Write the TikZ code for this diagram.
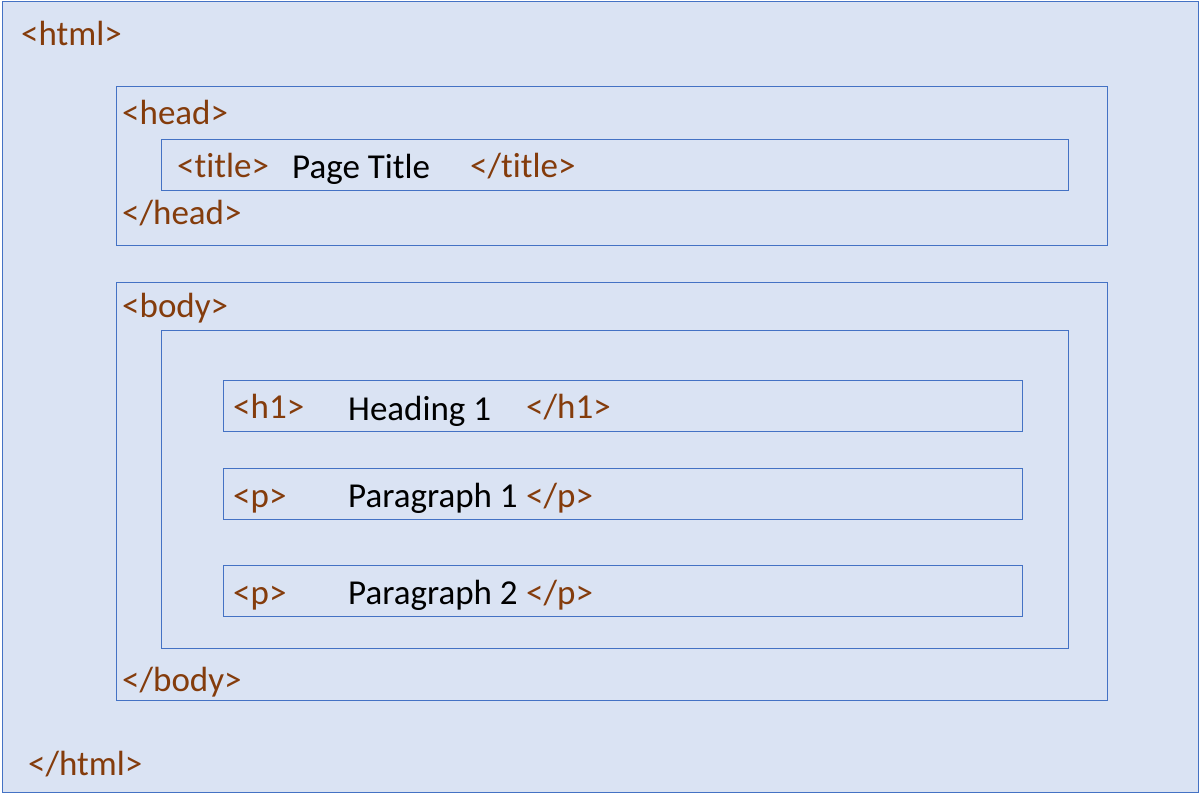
\documentclass[tikz,border=0pt]{standalone}
\usepackage{fontspec}
\setmainfont{Carlito}[Ligatures={NoCommon}]
\definecolor{boxfill}{HTML}{DAE3F3}
\definecolor{boxline}{HTML}{4472C4}
\definecolor{tagcol}{HTML}{843C0C}
\begin{document}
\begin{tikzpicture}[x=1pt,y=-1pt,
  box/.style={draw=boxline, line width=1pt, fill=boxfill, inner sep=0pt, outer sep=0pt, anchor=north west},
  tag/.style={text=tagcol, anchor=base west, inner sep=0pt, font=\fontsize{35}{42}\selectfont},
  txt/.style={text=black, anchor=base west, inner sep=0pt, font=\fontsize{35}{42}\selectfont}]
\useasboundingbox (0,0) rectangle (1200,796);
\fill[white] (0,0) rectangle (1200,796);
\node[box, minimum width=1196pt, minimum height=791pt] (html) at (2,1) {};
\node[box, minimum width=991pt, minimum height=159pt] (head) at (116,86) {};
\node[box, minimum width=907pt, minimum height=51pt] (title) at (161,139) {};
\node[box, minimum width=991pt, minimum height=418pt] (body) at (116,282) {};
\node[box, minimum width=907pt, minimum height=318pt] (inner) at (161,330) {};
\node[box, minimum width=799pt, minimum height=51pt] (h1) at (223,380) {};
\node[box, minimum width=799pt, minimum height=51pt] (p1) at (223,468) {};
\node[box, minimum width=799pt, minimum height=51pt] (p2) at (223,565) {};
\node[tag] (htmlopen) at (21,45) {<html>};
\node[tag] (headopen) at (122,124) {<head>};
\node[tag] (titleopen) at (177,177) {<title>};
\node[txt] (titletext) at (292,178) {Page Title};
\node[tag] (titleclose) at (470,177) {</title>};
\node[tag] (headclose) at (122,224) {</head>};
\node[tag] (bodyopen) at (122,317) {<body>};
\node[tag] (h1open) at (233,418) {<h1>};
\node[txt] (h1text) at (348,420) {Heading 1};
\node[tag] (h1close) at (526,418) {</h1>};
\node[tag] (p1open) at (233,507) {<p>};
\node[txt] (p1text) at (348,507) {Paragraph 1};
\node[tag] (p1close) at (526,507) {</p>};
\node[tag] (p2open) at (233,604) {<p>};
\node[txt] (p2text) at (348,604) {Paragraph 2};
\node[tag] (p2close) at (526,604) {</p>};
\node[tag] (bodyclose) at (122,691) {</body>};
\node[tag] (htmlclose) at (28,775) {</html>};
\end{tikzpicture}
\end{document}
